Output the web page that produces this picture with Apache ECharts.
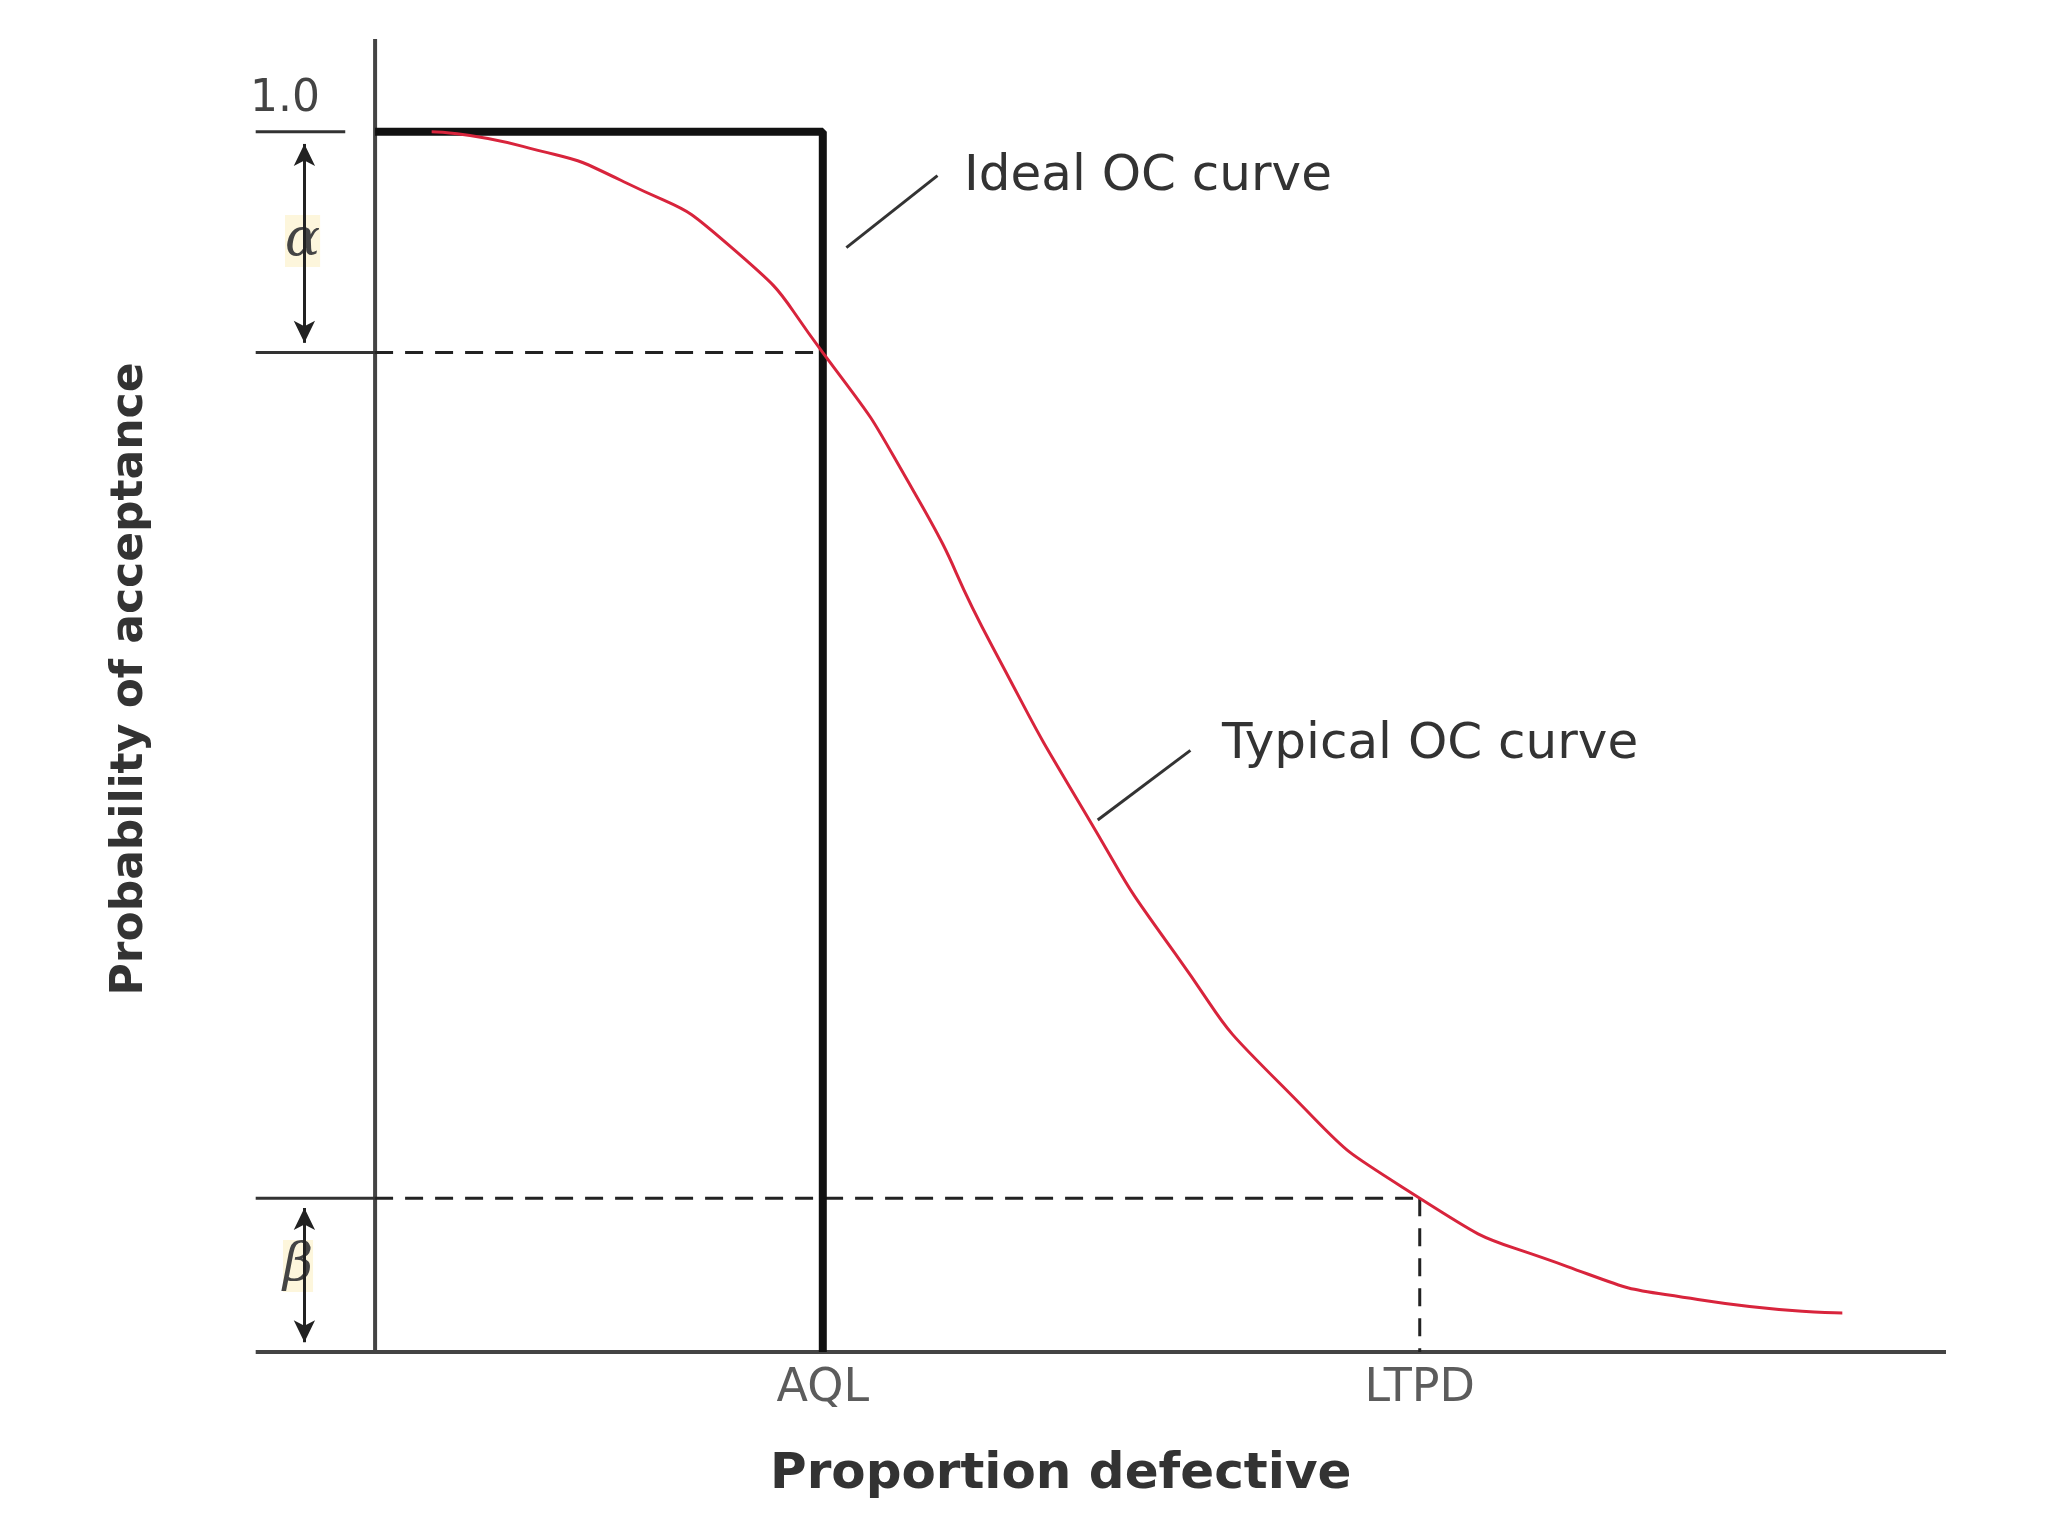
<!DOCTYPE html>
<html>
<head>
<meta charset="utf-8">
<script src="https://cdn.jsdelivr.net/npm/echarts@6/dist/echarts.min.js"></script>
<style>html,body{margin:0;padding:0;background:#fff}#chart{width:2048px;height:1536px}</style>
</head>
<body>
<div id="chart"></div>
<script>
// OC curve data (x = proportion defective, y = probability of acceptance)
var aql = 0.285;
var ltpd = 0.665;
var alphaY = 0.819;
var betaY = 0.126;
var typicalCurve = [
  [0.036, 1.0], [0.094, 0.988], [0.160, 0.958], [0.227, 0.905], [0.285, 0.819],
  [0.343, 0.705], [0.393, 0.578], [0.451, 0.444], [0.509, 0.327], [0.576, 0.220],
  [0.665, 0.126], [0.759, 0.070], [0.842, 0.043], [0.934, 0.032]
];
var idealCurve = [[0, 1.0], [aql, 1.0], [aql, 0]];
var xLabels = [[aql, 'AQL'], [ltpd, 'LTPD']];

var font = '"DejaVu Sans", "Liberation Sans", sans-serif';
var dash = {color: '#222', width: 3, type: [18, 12]};
var thin = {color: '#333', width: 3, type: 'solid'};

function seg(a, b, style) {
  return {type: 'line', data: [a, b], symbol: 'none', lineStyle: style, silent: true, z: 2};
}

var option = {
  backgroundColor: '#fff',
  animation: false,
  grid: {left: 218, right: 102, top: 39, bottom: 184},
  xAxis: {type: 'value', min: -0.1, max: 1.0, axisLine: {show: false}, axisTick: {show: false},
          axisLabel: {show: false}, splitLine: {show: false}},
  yAxis: {type: 'value', min: 0, max: 1.076, axisLine: {show: false}, axisTick: {show: false},
          axisLabel: {show: false}, splitLine: {show: false}},
  series: [
    // axes
    seg([0, 0], [0, 1.076], {color: '#444', width: 4}),
    seg([-0.076, 0], [1.0, 0], {color: '#444', width: 4}),
    // left ticks
    seg([-0.076, 1.0], [-0.019, 1.0], thin),
    seg([-0.076, alphaY], [0, alphaY], thin),
    seg([-0.076, betaY], [0, betaY], thin),
    // dashed guides
    seg([0, alphaY], [aql, alphaY], dash),
    seg([0, betaY], [ltpd, betaY], dash),
    seg([ltpd, betaY], [ltpd, 0], dash),
    // leader lines
    seg([0.300, 0.905], [0.358, 0.964], thin),
    seg([0.460, 0.436], [0.519, 0.493], thin),
    {
      name: 'Ideal OC curve', type: 'line', data: idealCurve, symbol: 'none',
      lineStyle: {color: '#111', width: 8}, z: 4
    },
    {
      name: 'Typical OC curve', type: 'line', data: typicalCurve, symbol: 'none', smooth: 0.6,
      lineStyle: {color: '#d8243c', width: 3}, z: 5
    },
    {
      type: 'scatter', data: xLabels.map(function (d) { return [d[0], 0, d[1]]; }),
      symbolSize: 0, silent: true,
      label: {show: true, position: 'bottom', distance: 14, formatter: function (p) { return p.data[2]; },
              fontFamily: font, fontSize: 46, color: '#333'}
    },
    {
      type: 'scatter', symbolSize: 0, silent: true, data: [],
      markLine: {
        silent: true, symbol: ['arrow', 'arrow'], symbolSize: [16, 22],
        lineStyle: {color: '#222', width: 3, type: 'solid'}, label: {show: false},
        data: [
          [{coord: [-0.045, 0.99]}, {coord: [-0.045, alphaY + 0.008]}],
          [{coord: [-0.045, betaY - 0.008]}, {coord: [-0.045, 0.008]}]
        ]
      }
    }
  ],
  graphic: [
    {type: 'text', left: 250, top: 78, style: {text: '1.0', font: '44px ' + font, fill: '#444'}},
    {type: 'text', left: 285, top: 215, style: {text: 'α', font: 'italic 52px "DejaVu Serif", serif', fill: '#444', backgroundColor: '#fdf6dc'}},
    {type: 'text', left: 283, top: 1240, style: {text: 'β', font: 'italic 52px "DejaVu Serif", serif', fill: '#444', backgroundColor: '#fdf6dc'}},
    {type: 'text', left: 964, top: 152, style: {text: 'Ideal OC curve', font: '50px ' + font, fill: '#333'}},
    {type: 'text', left: 1222, top: 720, style: {text: 'Typical OC curve', font: '50px ' + font, fill: '#333'}},
    {type: 'text', left: 770, top: 1450, style: {text: 'Proportion defective', font: 'bold 50px ' + font, fill: '#333'}},
    {type: 'text', x: 131, y: 679, rotation: Math.PI / 2,
     style: {text: 'Probability of acceptance', font: 'bold 44px ' + font, fill: '#333', align: 'center', verticalAlign: 'middle'}}
  ]
};

var chart = echarts.init(document.getElementById('chart'));
chart.setOption(option);
</script>
</body>
</html>
